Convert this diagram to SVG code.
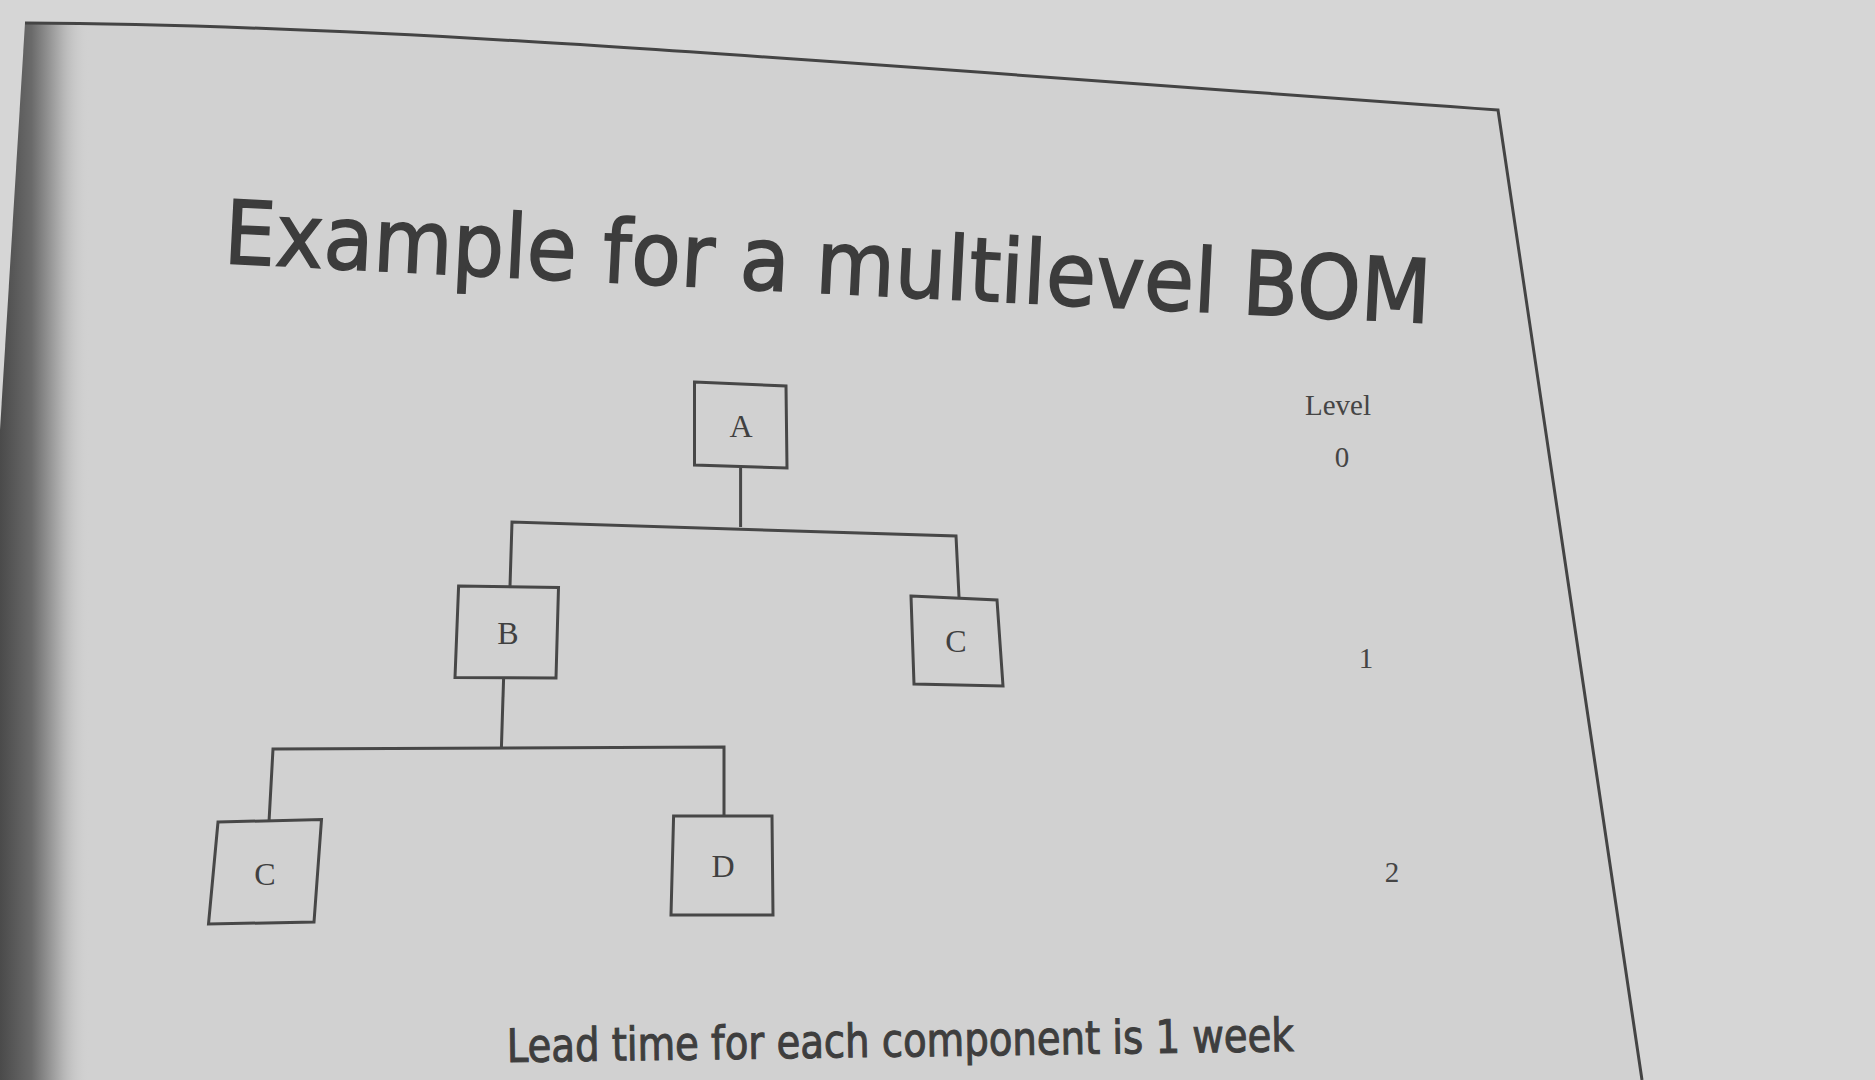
<svg xmlns="http://www.w3.org/2000/svg" width="1875" height="1080" viewBox="0 0 1875 1080">
<defs>
<linearGradient id="shadow" x1="0" y1="0" x2="1" y2="0" gradientUnits="objectBoundingBox">
<stop offset="0" stop-color="#4a4a4a"/>
<stop offset="0.35" stop-color="#6a6a6a"/>
<stop offset="0.7" stop-color="#b5b5b5"/>
<stop offset="1" stop-color="#d2d2d2" stop-opacity="0"/>
</linearGradient>
<style>
.box{fill:none;stroke:#474747;stroke-width:3}
.conn{fill:none;stroke:#474747;stroke-width:3;stroke-linejoin:miter}
.lbl{font-family:"Liberation Serif","Times New Roman",serif;font-size:32px;fill:#404040;text-anchor:middle}
.lvl{font-family:"Liberation Serif","Times New Roman",serif;font-size:29px;fill:#454545;text-anchor:middle}
</style>
</defs>
<rect x="0" y="0" width="1875" height="1080" fill="#d6d6d6"/>
<path d="M25,23 C400,25 800,60 1498,110 L1642,1080 L0,1080 L0,430 Z" fill="#d1d1d1"/>
<path d="M25,23 L90,24 L90,1080 L0,1080 L0,430 Z" fill="url(#shadow)"/>
<path d="M25,23 C400,25 800,60 1498,110 L1642,1080" fill="none" stroke="#444" stroke-width="3"/>

<text x="223" y="263" transform="rotate(2.85 223 263)" font-family="'DejaVu Sans',Verdana,sans-serif" font-size="88" fill="#3c3c3c" stroke="#3c3c3c" stroke-width="1.6" textLength="1208" lengthAdjust="spacingAndGlyphs">Example for a multilevel BOM</text>

<g id="connectors">
<polyline class="conn" points="740.6,468 740.6,527"/>
<polyline class="conn" points="510,586 512,522 956,536 959,597"/>
<polyline class="conn" points="503.6,678 501.4,748"/>
<polyline class="conn" points="269,822 273,749 724,747 724,816"/>
</g>

<g id="node-A">
<polygon class="box" points="694.5,382 786,386 787,468 694.5,465"/>
<text class="lbl" x="741" y="437">A</text>
</g>
<g id="node-B">
<polygon class="box" points="458.6,586 558.5,587.5 556,678 455,677.5"/>
<text class="lbl" x="508" y="644">B</text>
</g>
<g id="node-C1">
<polygon class="box" points="911,596 997,600 1003,686 914,684"/>
<text class="lbl" x="956" y="652">C</text>
</g>
<g id="node-C2">
<polygon class="box" points="218,822 321.5,819.5 314,922 208.5,924"/>
<text class="lbl" x="265" y="885">C</text>
</g>
<g id="node-D">
<polygon class="box" points="673.6,816 772,816 773,915 671,915"/>
<text class="lbl" x="723" y="877">D</text>
</g>

<g id="levels">
<text class="lvl" x="1338" y="415">Level</text>
<text class="lvl" x="1342" y="467">0</text>
<text class="lvl" x="1366" y="668">1</text>
<text class="lvl" x="1392" y="882">2</text>
</g>

<text x="507" y="1062" transform="rotate(-0.8 507 1062)" font-family="'DejaVu Sans Condensed','DejaVu Sans',sans-serif" font-size="46" fill="#3e3e3e" stroke="#3e3e3e" stroke-width="1" textLength="787" lengthAdjust="spacingAndGlyphs">Lead time for each component is 1 week</text>
</svg>
